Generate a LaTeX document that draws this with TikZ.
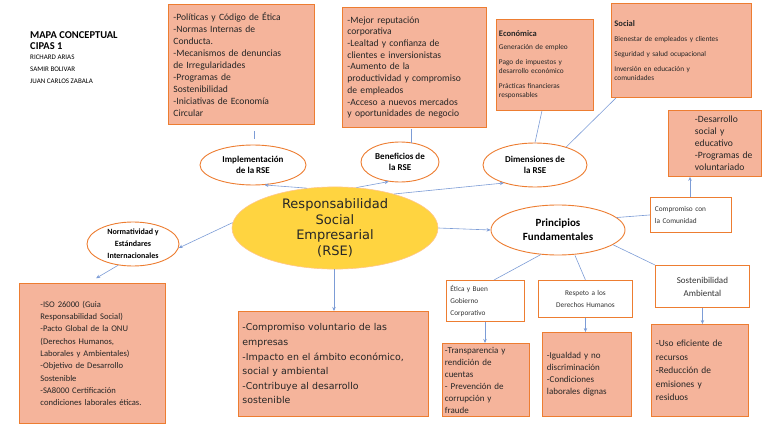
\documentclass[tikz,border=0pt]{standalone}
\usepackage{fontspec}
\setmainfont{Carlito}
\newfontfamily\dejavu{DejaVu Sans}
\usetikzlibrary{shapes.geometric,arrows.meta}
\definecolor{orl}{HTML}{ED7D31}
\definecolor{salm}{HTML}{F5B49B}
\definecolor{bl}{HTML}{4472C4}
\tikzset{
 box/.style={draw=orl,line width=0.9pt,fill=salm,anchor=north west,align=left,inner sep=4pt,text=black!85},
 wbox/.style={draw=orl,line width=0.9pt,fill=white,anchor=north west,align=left,inner sep=4pt,text=black!80},
 ell/.style={ellipse,draw=orl,line width=0.9pt,fill=white,align=center,font=\fontsize{9}{11}\selectfont\bfseries,inner sep=0pt},
 ln/.style={draw=bl!70,line width=0.6pt},
 ar/.style={ln,-{Stealth[length=4pt,width=3.5pt]}},
 bt/.style={font=\fontsize{9.6}{12}\selectfont},
}
\begin{document}
\begin{tikzpicture}[x=1pt,y=-1pt]
\useasboundingbox (0,0) rectangle (768,433);
% title
\node[anchor=north west,align=left,inner sep=0pt] (title) at (30,31) {\fontsize{10.5}{13}\selectfont\bfseries MAPA CONCEPTUAL\\[-1pt]\fontsize{10.5}{13}\selectfont\bfseries CIPAS 1\\[-2pt]
\fontsize{7}{10.5}\selectfont RICHARD ARIAS\\\fontsize{7}{10.5}\selectfont SAMIR BOLIVAR\\\fontsize{7}{10.5}\selectfont JUAN CARLOS ZABALA};
% top boxes
\node[box,bt,minimum width=146pt,minimum height=120pt,text width=136pt] (b1) at (168,4)
{-Políticas y Código de Ética\\-Normas Internas de\\Conducta.\\-Mecanismos de denuncias\\de Irregularidades\\-Programas de\\Sostenibilidad\\-Iniciativas de Economía\\Circular};
\node[box,bt,minimum width=144pt,minimum height=120pt,text width=134pt,font=\fontsize{9.6}{11.7}\selectfont] (b2) at (342,7)
{-Mejor reputación\\corporativa\\-Lealtad y confianza de\\clientes e inversionistas\\-Aumento de la\\productividad y compromiso\\de empleados\\-Acceso a nuevos mercados\\y oportunidades de negocio};
\node[box,minimum width=97pt,minimum height=91pt,text width=92pt,inner sep=2pt,font=\fontsize{7.3}{9}\selectfont] (eco) at (496,19)
{{\fontsize{8.5}{10}\selectfont\bfseries Económica}\\[4pt]Generación de empleo\\[6pt]Pago de impuestos y\\desarrollo económico\\[6pt]Prácticas financieras\\responsables};
\node[box,minimum width=140pt,minimum height=94pt,text width=134pt,inner sep=3pt,font=\fontsize{7.3}{9}\selectfont] (soc) at (611,3)
{{\fontsize{8.5}{10}\selectfont\bfseries Social}\\[6pt]Bienestar de empleados y clientes\\[6pt]Seguridad y salud ocupacional\\[6pt]Inversión en educación y\\comunidades};
\node[box,bt,minimum width=93pt,minimum height=66pt,text width=70pt,inner sep=0pt,font=\fontsize{9.6}{12}\selectfont] (des) at (668,110)
{\hspace*{15pt}\parbox[t]{70pt}{-Desarrollo\\social y\\educativo\\-Programas de\\voluntariado}};
\node[wbox,minimum width=81pt,minimum height=35pt,text width=72pt,font=\fontsize{7.3}{12}\selectfont] (com) at (650,197)
{Compromiso con\\la Comunidad};
% ellipses
\node[ell,minimum width=106pt,minimum height=40pt] (imp) at (253,165) {Implementación\\de la RSE};
\node[ell,minimum width=78pt,minimum height=40pt] (ben) at (400,162) {Beneficios de\\la RSE};
\node[ell,minimum width=104pt,minimum height=44pt] (dim) at (535,165) {Dimensiones de\\la RSE};
\node[ellipse,draw=orange!45,fill=orange!45!yellow!75,line width=0.6pt,minimum width=206pt,minimum height=70pt,inner sep=0pt,align=center,font=\dejavu\fontsize{13}{15.5}\selectfont,text=black!85] (rse) at (335,228) {Responsabilidad\\Social\\Empresarial\\(RSE)};
\node[ell,minimum width=92pt,minimum height=44pt,font=\fontsize{8}{12}\selectfont\bfseries] (nor) at (133,244) {Normatividad y\\Estándares\\Internacionales};
\node[ell,minimum width=134pt,minimum height=50pt,font=\fontsize{11}{14}\selectfont\bfseries] (pri) at (558,230) {Principios\\Fundamentales};
% bottom boxes
\node[box,minimum width=146pt,minimum height=140pt,text width=126pt,inner sep=0pt,font=\fontsize{8.6}{12.3}\selectfont] (nbox) at (19,283)
{\hspace*{11pt}\parbox[t]{126pt}{-ISO 26000 (Guia\\Responsabilidad Social)\\-Pacto Global de la ONU\\(Derechos Humanos,\\Laborales y Ambientales)\\-Objetivo de Desarrollo\\Sostenible\\-SA8000 Certificación\\condiciones laborales éticas.}};
\node[box,minimum width=190pt,minimum height=105pt,text width=182pt,font=\dejavu\fontsize{9.4}{14.6}\selectfont] (cv) at (238,311)
{-Compromiso voluntario de las\\empresas\\-Impacto en el ámbito económico,\\social y ambiental\\-Contribuye al desarrollo\\sostenible\\[6pt]};
\node[wbox,minimum width=77pt,minimum height=41pt,text width=70pt,font=\fontsize{7.3}{12}\selectfont] (eti) at (446,280)
{Ética y Buen\\Gobierno\\Corporativo};
\node[wbox,minimum width=93pt,minimum height=37pt,text width=86pt,align=center,font=\fontsize{7.3}{12}\selectfont] (res) at (538,280)
{Respeto a los\\Derechos Humanos};
\node[wbox,minimum width=93pt,minimum height=42pt,text width=86pt,align=center,font=\fontsize{9}{13}\selectfont] (sos) at (655,265)
{Sostenibilidad\\Ambiental};
\node[box,minimum width=87pt,minimum height=73pt,text width=82pt,inner sep=2pt,font=\fontsize{9}{12}\selectfont] (tra) at (442,343)
{-Transparencia y\\rendición de\\cuentas\\- Prevención de\\corrupción y\\fraude};
\node[box,minimum width=89pt,minimum height=84pt,text width=80pt,font=\fontsize{9}{12}\selectfont] (igu) at (542,332)
{-Igualdad y no\\discriminación\\-Condiciones\\laborales dignas\\[18pt]};
\node[box,minimum width=97pt,minimum height=92pt,text width=88pt,font=\fontsize{9.4}{13.5}\selectfont] (uso) at (651,324)
{-Uso eficiente de\\recursos\\-Reducción de\\emisiones y\\residuos\\[8pt]};
% connectors
\draw[ln] (b1.south -| 254,0) ++(0,6) -- ++(0,8);
\draw[ln] (b2.south -| 411,0) ++(0,1) -- ++(0,14);
\draw[ar] (rse.125) -- (imp.-60);
\draw[ar] (rse.62) -- (ben.-120);
\draw[ar] (rse.30) -- (dim.-150);
\draw[ln] (eco.south) ++(-3,0) -- (dim.north);
\draw[ln] (soc.south west) ++(5,0) -- (dim.30);
\draw[ar] (rse.177) -- (nor.-5);
\draw[ar] (nor.-125) -- ++(-22,13);
\draw[ar,line width=1pt] (rse.south) ++(-1,0) -- (cv.north -| 334,0);
\draw[ar] (rse.east) -- (pri.west);
\draw[ln] (pri.12) -- (com.west);
\draw[ar] (com.north -| 690,0) -- (des.south -| 690,0);
\draw[ln] (pri.-125) -- (eti.north -| 494,0);
\draw[ln] (pri.-90) ++(17,0) -- (res.north);
\draw[ln] (pri.-15) -- (sos.north west) ++(0,0);
\draw[ar] (eti.south -| 485,0) -- (tra.north -| 485,0);
\draw[ar] (res.south) -- (igu.north -| res.south);
\draw[ar] (sos.south) -- (uso.north -| sos.south);
\end{tikzpicture}
\end{document}
